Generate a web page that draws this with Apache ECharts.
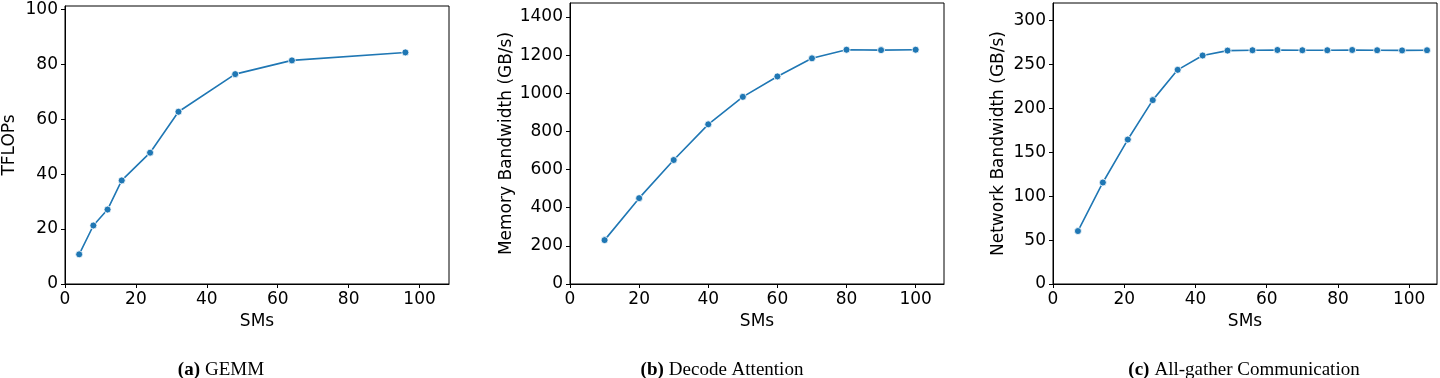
<!DOCTYPE html>
<html><head><meta charset="utf-8">
<script src="https://cdn.jsdelivr.net/npm/echarts@6/dist/echarts.min.js"></script>
<style>html,body{margin:0;padding:0;background:#fff}#c{width:1440px;height:378px}</style>
</head><body><div id="c"></div>
<script>
const gemmSMs = [4, 8, 12, 16, 24, 32, 48, 64, 96];
const gemmTFLOPs = [10.8, 21.3, 27.1, 37.7, 47.8, 62.7, 76.4, 81.4, 84.3];
const attnSMs = [10, 20, 30, 40, 50, 60, 70, 80, 90, 100];
const attnBW = [230, 450, 650, 837, 981, 1088, 1183, 1228, 1226, 1228];
const commSMs = [7, 14, 21, 28, 35, 42, 49, 56, 63, 70, 77, 84, 91, 98, 105];
const commBW = [60.3, 115.6, 164.5, 209.4, 243.9, 260.2, 265.8, 266.2, 266.5, 266.2, 266.2, 266.5, 266.2, 266.0, 266.2];
const xTicks = [0, 20, 40, 60, 80, 100];
const yTicksA = [0, 20, 40, 60, 80, 100];
const yTicksB = [0, 200, 400, 600, 800, 1000, 1200, 1400];
const yTicksC = [0, 50, 100, 150, 200, 250, 300];
const captions = [["(a)", "GEMM"], ["(b)", "Decode Attention"], ["(c)", "All-gather Communication"]];
const yNames = ["TFLOPs", "Memory Bandwidth (GB/s)", "Network Bandwidth (GB/s)"];

const blue = '#1f77b4';
const font = 'DejaVu Sans';
const fs = 17;
const grids = [
  {left: 63, right: 991, top: 6, bottom: 94},
  {left: 570, right: 496, top: 3, bottom: 94},
  {left: 1053, right: 3, top: 3, bottom: 94}
];
const xMax = [108.3, 108.2, 107.8];
const yMax = [101.2, 1473, 320];
const yTicks = [yTicksA, yTicksB, yTicksC];
const nameGaps = [47, 55, 46];
const series = [[gemmSMs, gemmTFLOPs], [attnSMs, attnBW], [commSMs, commBW]];

const option = {
  animation: false,
  backgroundColor: '#fff',
  grid: grids.map(g => Object.assign({show: true, borderColor: '#000', borderWidth: 1, backgroundColor: 'transparent'}, g)),
  xAxis: grids.map((g, i) => ({
    type: 'value', gridIndex: i, min: 0, max: xMax[i],
    name: 'SMs', nameLocation: 'middle', nameGap: 29,
    nameTextStyle: {fontFamily: font, fontSize: fs, color: '#000'},
    axisLine: {show: true, lineStyle: {color: '#000', width: 1}},
    axisTick: {show: true, inside: false, length: 4, lineStyle: {color: '#000'}, customValues: xTicks},
    axisLabel: {fontFamily: font, fontSize: fs, color: '#000', margin: 7, customValues: xTicks, formatter: v => String(v)},
    splitLine: {show: false}
  })),
  yAxis: grids.map((g, i) => ({
    type: 'value', gridIndex: i, min: 0, max: yMax[i],
    name: yNames[i], nameLocation: 'middle', nameGap: nameGaps[i], nameRotate: 90,
    nameTextStyle: {fontFamily: font, fontSize: fs, color: '#000'},
    axisLine: {show: true, lineStyle: {color: '#000', width: 1}},
    axisTick: {show: true, inside: false, length: 4, lineStyle: {color: '#000'}, customValues: yTicks[i]},
    axisLabel: {fontFamily: font, fontSize: fs, color: '#000', margin: 7, customValues: yTicks[i], formatter: v => String(v)},
    splitLine: {show: false}
  })),
  series: series.map((s, i) => ({
    type: 'line', xAxisIndex: i, yAxisIndex: i,
    data: s[0].map((x, j) => [x, s[1][j]]),
    symbol: 'circle', symbolSize: 7,
    lineStyle: {color: blue, width: 1.6},
    itemStyle: {color: blue, borderColor: '#fff', borderWidth: 0.8}
  })),
  title: captions.map((c, i) => ({
    text: '{b|' + c[0] + '} {n|' + c[1] + '}',
    left: [216, 717, 1239][i], top: 356, textAlign: 'center',
    textStyle: {fontWeight: 'normal', rich: {
      b: {fontFamily: 'Liberation Serif', fontWeight: 'bold', fontSize: 19, color: '#000'},
      n: {fontFamily: 'Liberation Serif', fontWeight: 'normal', fontSize: 19, color: '#000'}
    }}
  }))
};
const chart = echarts.init(document.getElementById('c'), null, {renderer: 'canvas'});
chart.setOption(option);
</script></body></html>
